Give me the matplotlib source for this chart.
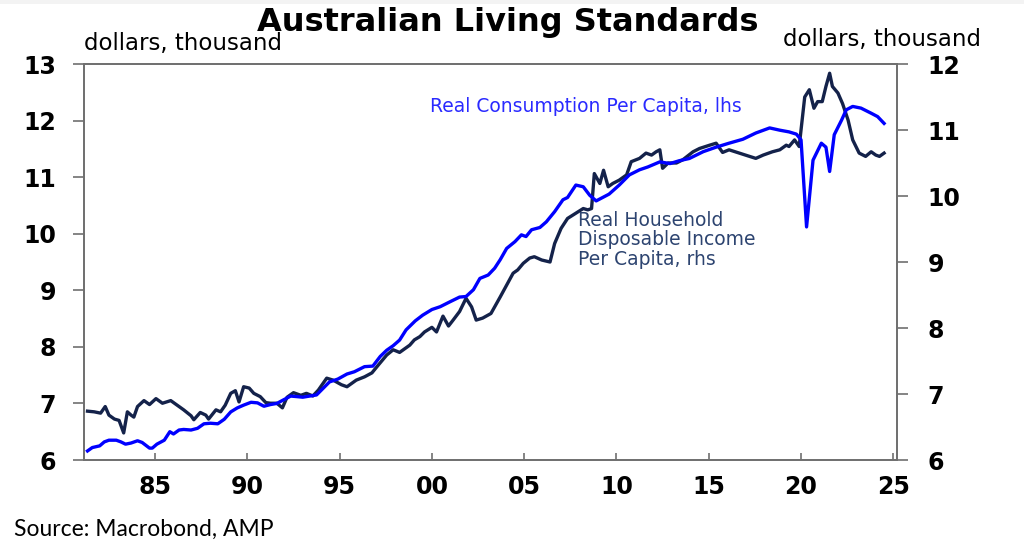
import matplotlib
matplotlib.use("Agg")
import matplotlib.pyplot as plt
from matplotlib.patches import Rectangle

# ---------------- data ----------------
cons_years = [1981.34, 1981.6, 1982.0, 1982.25, 1982.5, 1982.9, 1983.15, 1983.4, 1983.7, 1984.05,
              1984.3, 1984.7, 1984.85, 1985.1, 1985.5, 1985.8, 1986.0, 1986.3, 1986.55, 1986.95,
              1987.3, 1987.65, 1988.0, 1988.4, 1988.75, 1989.1, 1989.45, 1989.8, 1990.2, 1990.55,
              1990.9, 1991.25, 1991.6, 1992.0, 1992.35, 1992.7, 1993.0, 1993.75, 1994.45, 1994.9,
              1995.4, 1995.8, 1996.35, 1996.8, 1997.2, 1997.55, 1997.9, 1998.25, 1998.6, 1999.1,
              1999.5, 2000.0, 2000.45, 2001.0, 2001.5, 2001.85, 2002.25, 2002.6, 2003.05, 2003.4,
              2003.7, 2004.05, 2004.5, 2004.85, 2005.1, 2005.4, 2005.85, 2006.2, 2006.65, 2007.1,
              2007.35, 2007.8, 2008.2, 2008.55, 2008.9, 2009.25, 2009.6, 2010.15, 2010.7, 2011.25,
              2011.7, 2012.35, 2012.9, 2013.4, 2013.95, 2014.7, 2015.4, 2016.1, 2016.85, 2017.55,
              2018.3, 2018.85, 2019.35, 2019.75, 2020.0, 2020.3, 2020.65, 2021.1, 2021.35, 2021.55,
              2021.8, 2022.2, 2022.45, 2022.8, 2023.25, 2023.8, 2024.15, 2024.5]
cons_vals = [6.16, 6.22, 6.25, 6.32, 6.35, 6.35, 6.32, 6.28, 6.30, 6.34,
             6.31, 6.21, 6.21, 6.28, 6.35, 6.50, 6.46, 6.53, 6.54, 6.53,
             6.56, 6.64, 6.65, 6.64, 6.72, 6.85, 6.92, 6.97, 7.02, 7.01,
             6.95, 6.98, 7.00, 7.07, 7.13, 7.12, 7.11, 7.15, 7.38, 7.43,
             7.52, 7.56, 7.65, 7.66, 7.83, 7.94, 8.02, 8.12, 8.30, 8.46,
             8.56, 8.66, 8.71, 8.80, 8.88, 8.89, 9.01, 9.21, 9.27, 9.39,
             9.54, 9.74, 9.86, 9.98, 9.95, 10.07, 10.11, 10.21, 10.39, 10.60,
             10.64, 10.86, 10.83, 10.68, 10.58, 10.64, 10.70, 10.86, 11.04, 11.13,
             11.18, 11.27, 11.24, 11.29, 11.33, 11.45, 11.53, 11.60, 11.67, 11.78,
             11.87, 11.83, 11.80, 11.76, 11.66, 10.12, 11.30, 11.60, 11.53, 11.10,
             11.75, 12.01, 12.19, 12.25, 12.22, 12.13, 12.07, 11.95]

inc_years = [1981.34, 1981.7, 1982.05, 1982.3, 1982.5, 1982.8, 1983.05, 1983.3, 1983.5, 1983.7,
             1983.85, 1984.05, 1984.4, 1984.7, 1985.05, 1985.4, 1985.85, 1986.2, 1986.55, 1986.95,
             1987.1, 1987.45, 1987.75, 1987.9, 1988.3, 1988.55, 1988.8, 1989.1, 1989.35, 1989.55,
             1989.8, 1990.1, 1990.35, 1990.7, 1991.0, 1991.25, 1991.6, 1991.9, 1992.15, 1992.5,
             1992.9, 1993.2, 1993.55, 1993.85, 1994.3, 1994.65, 1995.1, 1995.4, 1995.9, 1996.35,
             1996.75, 1997.1, 1997.55, 1997.9, 1998.25, 1998.55, 1998.8, 1999.05, 1999.35, 1999.6,
             2000.0, 2000.25, 2000.6, 2000.9, 2001.15, 2001.5, 2001.85, 2002.15, 2002.4, 2002.75,
             2003.2, 2003.7, 2004.05, 2004.4, 2004.65, 2004.95, 2005.3, 2005.55, 2005.95, 2006.4,
             2006.65, 2007.0, 2007.35, 2007.8, 2008.2, 2008.45, 2008.65, 2008.8, 2009.1, 2009.3,
             2009.55, 2009.8, 2010.15, 2010.55, 2010.8, 2011.25, 2011.6, 2011.9, 2012.15, 2012.35,
             2012.5, 2012.8, 2013.25, 2013.6, 2014.15, 2014.5, 2015.05, 2015.4, 2015.75, 2016.1,
             2016.65, 2017.1, 2017.55, 2017.95, 2018.45, 2018.85, 2019.2, 2019.35, 2019.65, 2019.9,
             2020.2, 2020.45, 2020.7, 2020.9, 2021.15, 2021.35, 2021.55, 2021.7, 2022.0, 2022.25,
             2022.55, 2022.8, 2023.15, 2023.5, 2023.8, 2024.05, 2024.25, 2024.5]
inc_vals = [6.74, 6.73, 6.71, 6.81, 6.68, 6.62, 6.60, 6.41, 6.73, 6.68,
            6.65, 6.81, 6.90, 6.84, 6.93, 6.86, 6.90, 6.83, 6.76, 6.67,
            6.61, 6.72, 6.68, 6.62, 6.76, 6.73, 6.83, 7.01, 7.05, 6.88,
            7.11, 7.09, 7.01, 6.96, 6.87, 6.86, 6.86, 6.79, 6.95, 7.02,
            6.98, 7.01, 6.97, 7.06, 7.24, 7.21, 7.14, 7.11, 7.21, 7.26,
            7.32, 7.44, 7.59, 7.67, 7.63, 7.69, 7.74, 7.82, 7.87, 7.94,
            8.01, 7.94, 8.18, 8.03, 8.12, 8.25, 8.45, 8.32, 8.12, 8.15,
            8.22, 8.47, 8.65, 8.83, 8.88, 8.98, 9.06, 9.08, 9.03, 9.00,
            9.28, 9.51, 9.66, 9.74, 9.81, 9.79, 9.81, 10.34, 10.19, 10.39,
            10.14, 10.19, 10.24, 10.32, 10.52, 10.57, 10.65, 10.62, 10.67, 10.70,
            10.42, 10.50, 10.50, 10.55, 10.67, 10.72, 10.77, 10.80, 10.66, 10.70,
            10.65, 10.61, 10.57, 10.62, 10.67, 10.70, 10.77, 10.75, 10.85, 10.75,
            11.50, 11.61, 11.33, 11.43, 11.43, 11.66, 11.86, 11.66, 11.56, 11.40,
            11.15, 10.85, 10.65, 10.60, 10.67, 10.62, 10.60, 10.65]

x_ticks = [1985, 1990, 1995, 2000, 2005, 2010, 2015, 2020, 2025]
x_tick_labels = ["85", "90", "95", "00", "05", "10", "15", "20", "25"]
lhs_ticks = [6, 7, 8, 9, 10, 11, 12, 13]
rhs_ticks = [6, 7, 8, 9, 10, 11, 12]

# ---------------- style ----------------
BLUE = "#0000ff"
NAVY = "#14224a"
SPINE = "#707070"
W, H = 1024, 553

fig = plt.figure(figsize=(W / 100, H / 100), dpi=100)
fig.patch.set_facecolor("white")
fig.patches.append(Rectangle((0, 1 - 4 / H), 1, 4 / H, transform=fig.transFigure,
                             facecolor="#f3f3f3", edgecolor="none", zorder=0))

ax = fig.add_axes([84 / W, 1 - 460 / H, (897 - 84) / W, (460 - 64) / H])
ax2 = ax.twinx()

ax.plot(cons_years, cons_vals, color=BLUE, lw=2.4, solid_joinstyle="round", zorder=3)
ax2.plot(inc_years, inc_vals, color=NAVY, lw=2.4, solid_joinstyle="round", zorder=2)
ax.set_zorder(ax2.get_zorder() + 1)
ax.patch.set_visible(False)

ax.set_xlim(1981.15, 2025.2)
ax.set_ylim(6, 13)
ax2.set_ylim(6, 12)

tick_font = dict(family="DejaVu Sans", weight="bold", size=17)
ax.set_xticks(x_ticks)
ax.set_xticklabels(x_tick_labels, fontdict=tick_font)
ax.set_yticks(lhs_ticks)
ax.set_yticklabels([str(v) for v in lhs_ticks], fontdict=tick_font)
ax2.set_yticks(rhs_ticks)
ax2.set_yticklabels([str(v) for v in rhs_ticks], fontdict=tick_font)

ax.tick_params(axis="x", direction="in", length=5, width=1.2, color=SPINE, pad=11)
ax.tick_params(axis="y", direction="out", length=8, width=1.2, color=SPINE, pad=12)
ax2.tick_params(axis="y", direction="out", length=8, width=1.2, color=SPINE, pad=14)

for a in (ax, ax2):
    for s in a.spines.values():
        s.set_color(SPINE)
        s.set_linewidth(1.3)

# annotations
ax.text(1999.9, 12.24, "Real Consumption Per Capita, lhs", color="#2a2aff",
        fontsize=13.5, family="DejaVu Sans", va="center", ha="left")
ax2.text(2007.9, 9.78, "Real Household\nDisposable Income\nPer Capita, rhs", color="#2d4470",
         fontsize=13.5, family="DejaVu Sans", va="top", ha="left", linespacing=1.05)

# titles and units
fig.text(508 / W, 1 - 31 / H, "Australian Living Standards", ha="center", va="baseline",
         fontsize=23, weight="bold", family="DejaVu Sans", color="black")
fig.text(84 / W, 1 - 50 / H, "dollars, thousand", ha="left", va="baseline",
         fontsize=16.5, family="DejaVu Sans", color="black")
fig.text(783 / W, 1 - 46 / H, "dollars, thousand", ha="left", va="baseline",
         fontsize=16.5, family="DejaVu Sans", color="black")
fig.text(14 / W, 1 - 536 / H, "Source: Macrobond, AMP", ha="left", va="baseline",
         fontsize=16.5, family="Lato", color="black")

fig.savefig("out.png", dpi=100)
